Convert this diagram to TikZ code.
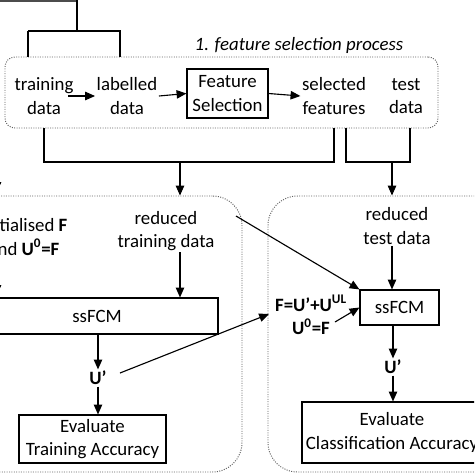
\documentclass[tikz,border=0pt]{standalone}
\usepackage{fontspec}
\setmainfont{Carlito}
\usetikzlibrary{positioning,fit,arrows.meta}

\begin{document}
\begin{tikzpicture}[
  x=0.25mm, y=-0.25mm,
  every node/.style={font=\fontsize{13.4}{16.5}\selectfont},
  txt/.style={align=center, inner sep=1pt},
  procbox/.style={rectangle, draw, line width=0.8pt, inner sep=0pt, align=center},
  group/.style={rectangle, draw=gray!75!black, densely dotted, line width=0.7pt, inner sep=0pt},
  line/.style={line width=0.8pt},
  arr/.style={-{Triangle[length=7pt,width=6pt]}, line width=0.8pt},
]
  \useasboundingbox (0,0) rectangle (474,474);
  \clip (0,0) rectangle (474,474);

  % Group boxes
  \node[group, rounded corners=7pt, fit={(5,57) (438,128)}] (fs) {};
  \node[group, rounded corners=21pt, fit={(-40,196) (242,472)}] (trainbox) {};
  \node[group, rounded corners=21pt, fit={(268,196) (540,472)}] (testbox) {};
  \node[txt, anchor=base east] (fslabel) at (405,50) {\itshape 1. feature selection process};

  % Row 1: feature selection
  \node[txt] (train) at (44,96) {training\\data};
  \node[txt] (lab) at (127,96) {labelled\\data};
  \node[procbox, minimum width=20.25mm, minimum height=12.25mm] (fsel) at (227.5,93.5) {Feature\\Selection};
  \node[txt] (sel) at (334,96) {selected\\features};
  \node[txt] (test) at (406,96) {test\\data};

  % Training side
  \node[txt] (init) at (24,237) {Initialised \textbf{F}\\and \textbf{U\textsuperscript{0}=F}};
  \node[txt] (rtrain) at (166,231) {reduced\\training data};
  \node[procbox, minimum width=60.5mm, minimum height=9mm] (ssl) at (97,316) {ssFCM};
  \node[txt] (ul) at (98,378) {\textbf{U’}};
  \node[procbox, minimum width=36.75mm, minimum height=12mm] (evtrain) at (92.5,439) {Evaluate\\Training Accuracy};

  % Test side
  \node[txt] (rtest) at (397,226) {reduced\\test data};
  \node[procbox, minimum width=19.75mm, minimum height=8.75mm] (ssr) at (399.5,307.5) {ssFCM};
  \node[txt] (finit) at (311,315) {\textbf{F=U’+U\textsuperscript{UL}}\\\textbf{U\textsuperscript{0}=F}};
  \node[txt] (ur) at (393,367) {\textbf{U’}};
  \node[procbox, minimum width=45mm, minimum height=15.25mm] (evtest) at (392,432.5) {Evaluate\\Classification Accuracy};

  % Free ends
  \coordinate (top) at (77,0);
  \coordinate (split) at (77,31);
  \coordinate (jl) at (180,162);
  \coordinate (jr) at (392,162);
  \coordinate (selout) at (346,128);
  \coordinate (testout) at (410,128);
  \coordinate (trout) at (236,216);
  \coordinate (uout) at (120,373);
  \coordinate (uin) at (269,314);
  \coordinate (uzero) at (335,322);

  % Arrows
  \draw[line width=1.6pt, gray!60!black] (-10,0.8) -- (76,0.8);
  \draw[line] (top) -- (split);
  \draw[line] (split -| 28,0) -- (28,31 |- fs.north);
  \draw[line] (28,31) -- (120,31) -- (120,31 |- fs.north);
  \draw[arr] ([xshift=-5]train.east) -- (lab.west);
  \draw[arr] (lab.east) -- (fsel.west);
  \draw[arr] (fsel.east) -- (sel.west);
  \draw[line] (train |- fs.south) |- (jl) -| (sel |- fs.south);
  \draw[line] (selout) |- (jr) -| (testout);
  \draw[arr] (jl) -- (jl |- trainbox.north);
  \draw[arr] (jr) -- (jr |- testbox.north);
  \draw[arr] (-3,170) -- (-3,192);
  \draw[arr] (-3,270) -- (-3,295);
  \draw[arr] (rtrain.south -| jl) -- (ssl.north -| jl);
  \draw[arr] (ssl.south -| ul) -- (ul.north);
  \draw[arr] (ul.south) -- (evtrain.north -| ul);
  \draw[arr] (uout) -- (uin);
  \draw[arr] (trout) -- (ssr.north west);
  \draw[arr] (rtest.south -| jr) -- (ssr.north -| jr);
  \draw[arr] (uzero) -- (ssr.west);
  \draw[arr] (ssr.south -| ur) -- (ur.north);
  \draw[arr] (ur.south) -- (evtest.north -| ur);
\end{tikzpicture}
\end{document}
